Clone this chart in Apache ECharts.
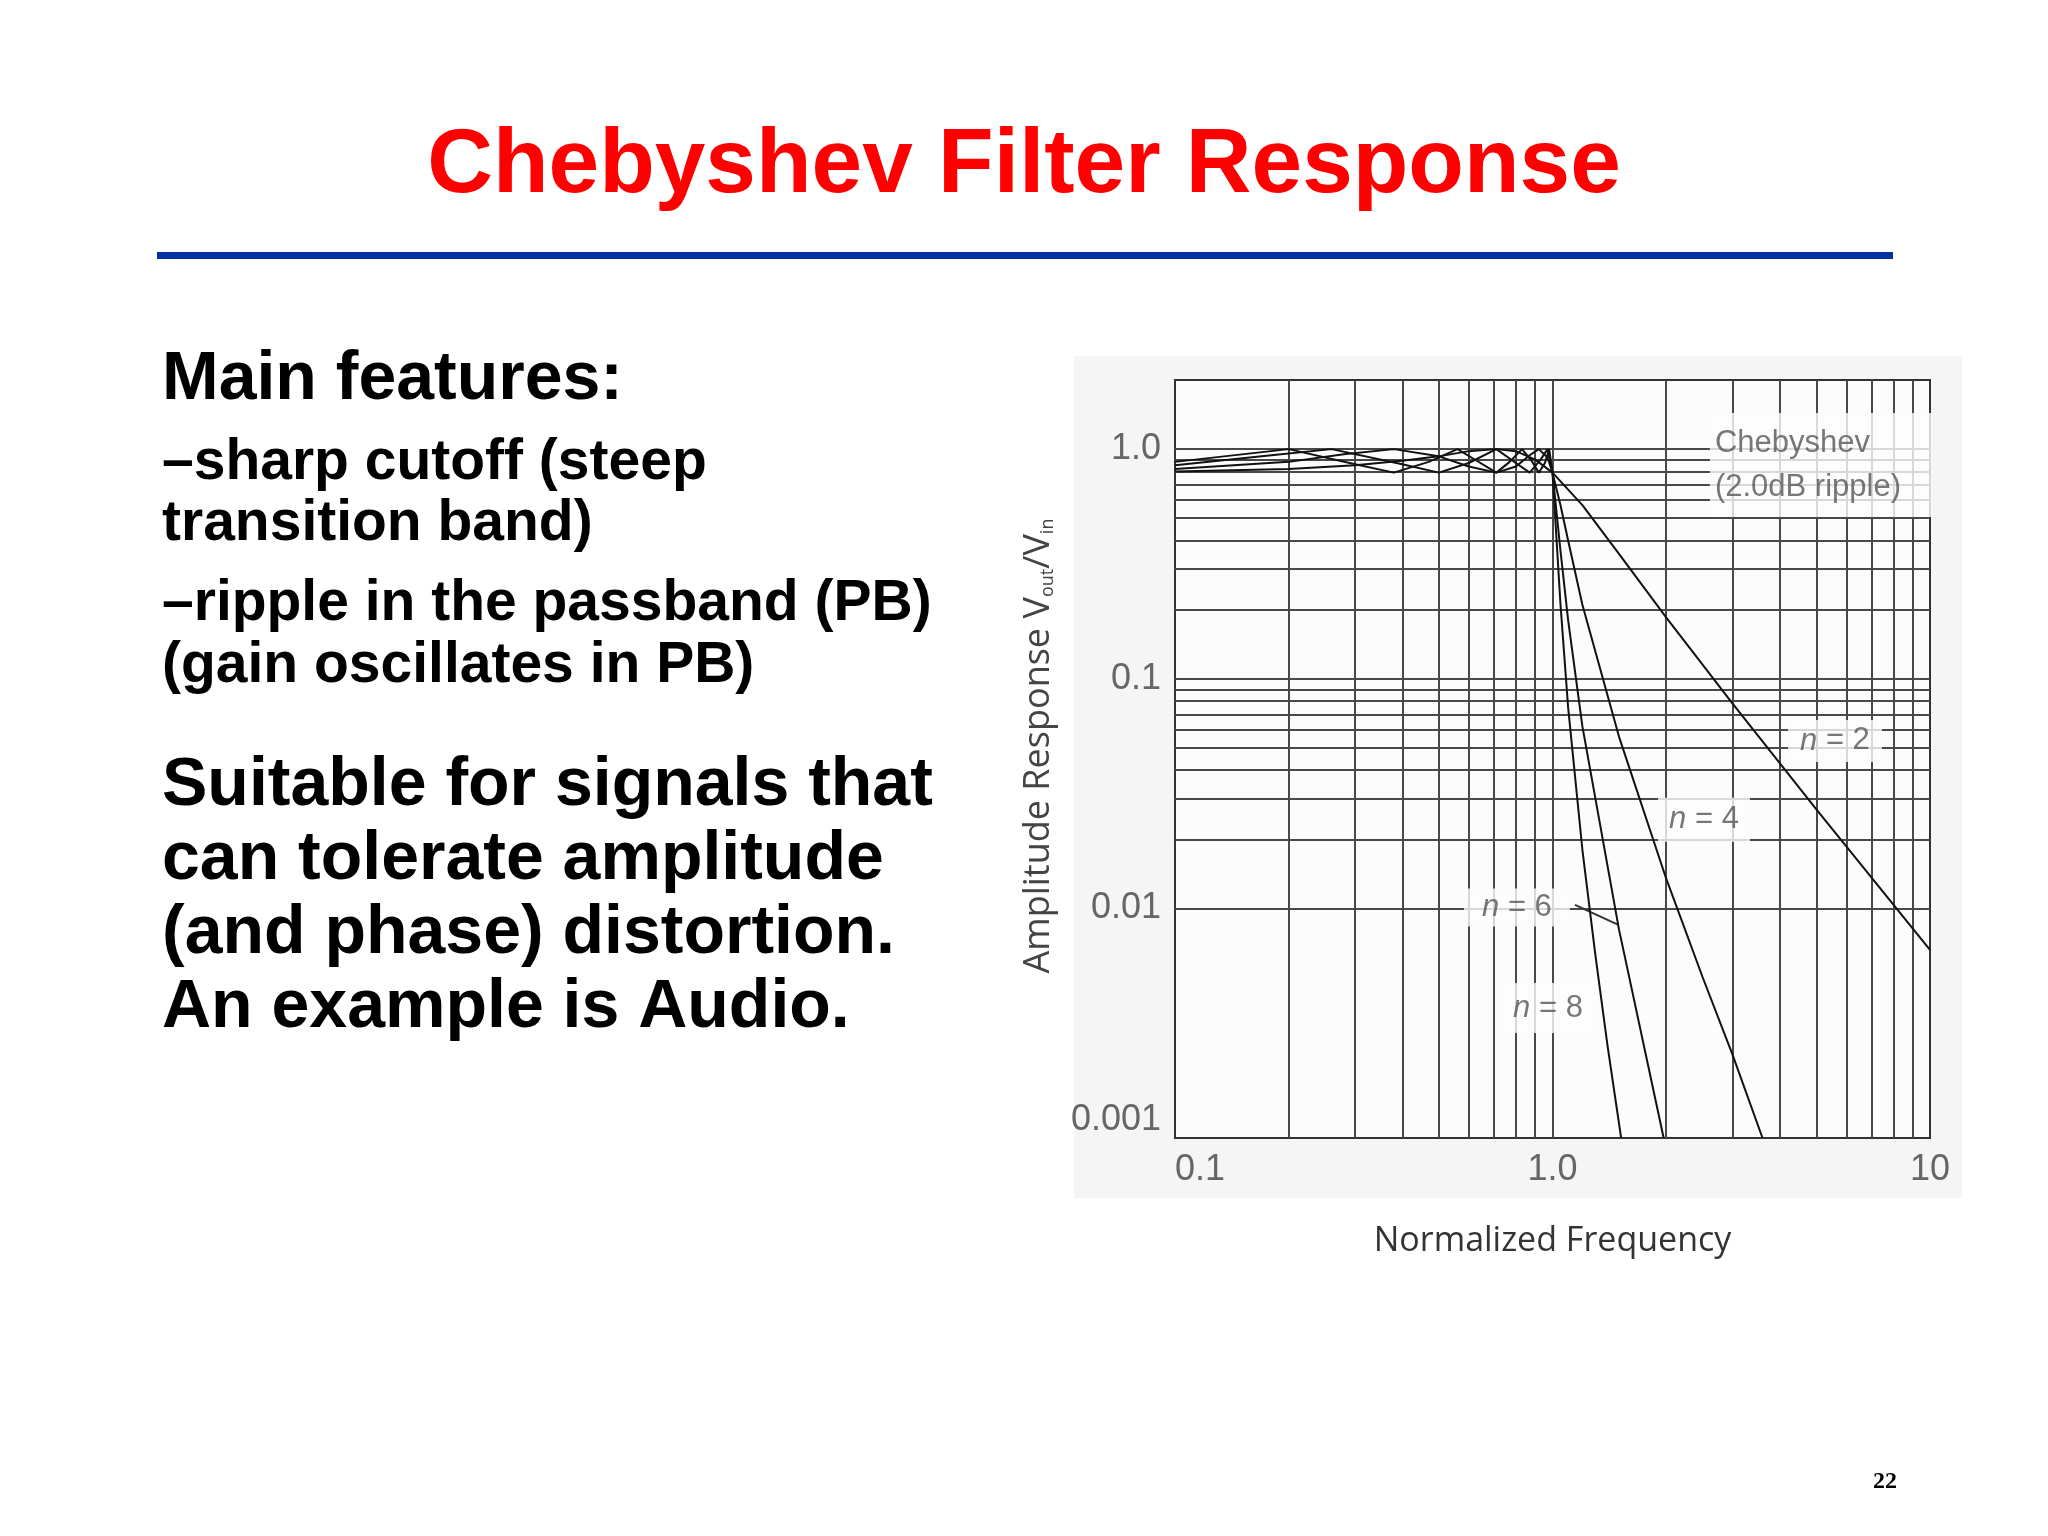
<!DOCTYPE html>
<html>
<head>
<meta charset="utf-8">
<script src="https://cdn.jsdelivr.net/npm/echarts@6/dist/echarts.min.js"></script>
<style>
html,body{margin:0;padding:0;background:#fff;}
#chart{width:2048px;height:1536px;}
</style>
</head>
<body>
<div id="chart"></div>
<script>
// ---- data ----
const freqN2 = [0.1, 0.2, 0.3, 0.4, 0.5, 0.6, 0.71, 0.8, 0.9, 1.0, 1.2, 1.5, 2, 3, 5, 10];
const gainN2 = [0.80, 0.82, 0.85, 0.89, 0.93, 0.98, 1.0, 0.98, 0.90, 0.79, 0.57, 0.35, 0.185, 0.078, 0.027, 0.0066];

const freqN4 = [0.1, 0.2, 0.28, 0.38, 0.5, 0.6, 0.71, 0.8, 0.87, 0.92, 0.97, 1.0, 1.05, 1.1, 1.2, 1.5, 2, 2.5, 3, 3.6];
const gainN4 = [0.82, 0.88, 0.95, 1.0, 0.93, 0.84, 0.79, 0.84, 0.94, 1.0, 0.92, 0.79, 0.57, 0.40, 0.21, 0.056, 0.0135, 0.005, 0.0023, 0.001];

const freqN6 = [0.1, 0.18, 0.26, 0.4, 0.5, 0.6, 0.71, 0.8, 0.87, 0.93, 0.97, 1.0, 1.05, 1.1, 1.2, 1.5, 1.97];
const gainN6 = [0.85, 0.94, 1.0, 0.86, 0.79, 0.87, 1.0, 0.87, 0.79, 0.90, 1.0, 0.79, 0.36, 0.18, 0.062, 0.0081, 0.001];

const freqN8 = [0.1, 0.2, 0.3, 0.38, 0.47, 0.56, 0.63, 0.71, 0.77, 0.83, 0.88, 0.92, 0.955, 0.98, 1.0, 1.05, 1.1, 1.2, 1.3, 1.4, 1.52];
const gainN8 = [0.88, 1.0, 0.86, 0.79, 0.88, 1.0, 0.89, 0.79, 0.88, 1.0, 0.89, 0.79, 0.87, 1.0, 0.79, 0.21, 0.075, 0.018, 0.0062, 0.0025, 0.001];

const xTickLabels = ['0.1', '1.0', '10'];
const yTickLabels = ['0.001', '0.01', '0.1', '1.0'];
const xGridValues = [0.2, 0.3, 0.4, 0.5, 0.6, 0.7, 0.8, 0.9, 1, 2, 3, 4, 5, 6, 7, 8, 9];
const yGridValues = [0.002, 0.003, 0.004, 0.005, 0.006, 0.007, 0.008, 0.009, 0.01,
                     0.02, 0.03, 0.04, 0.05, 0.06, 0.07, 0.08, 0.09, 0.1,
                     0.2, 0.3, 0.4, 0.5, 0.6, 0.7, 0.8, 0.9, 1.0];

const titleText = 'Chebyshev Filter Response';
const bodyLines = [
  {t: 'Main features:', size: 68, y: 380},
  {t: '\u2013sharp cutoff (steep', size: 57, y: 463},
  {t: 'transition band)', size: 57, y: 524},
  {t: '\u2013ripple in the passband (PB)', size: 57, y: 604},
  {t: '(gain oscillates in PB)', size: 57, y: 666},
  {t: 'Suitable for signals that', size: 68, y: 786},
  {t: 'can tolerate amplitude', size: 68, y: 860},
  {t: '(and phase) distortion.', size: 68, y: 934},
  {t: 'An example is Audio.', size: 68, y: 1008}
];
// annotation labels (anchored in data coordinates)
const annotations = [
  {text: '{a|Chebyshev}\n{a|(2.0dB ripple)}', x: 5.14, y: 0.853, w: 222, h: 104},
  {text: '{i|n} = 2', x: 5.6, y: 0.0536, w: 94, h: 42},
  {text: '{i|n} = 4', x: 2.52, y: 0.0243, w: 92, h: 44},
  {text: '{i|n} = 6', x: 0.805, y: 0.0101, w: 106, h: 38},
  {text: '{i|n} = 8', x: 0.973, y: 0.00368, w: 98, h: 50}
];
const leaderN6 = [[1.147, 0.01035], [1.49, 0.0085]];

// ---- chart ----
const chart = echarts.init(document.getElementById('chart'));
const pairs = (f, g) => f.map((v, i) => [v, g[i]]);
const labelFont = "'Liberation Sans Narrow','Liberation Sans',Arial,sans-serif";
const gridColor = '#484848';

const curve = (name, f, g) => ({
  name, type: 'line', data: pairs(f, g), symbol: 'none', z: 6,
  lineStyle: {color: '#111', width: 2}, silent: true, animation: false
});

const graphics = [
  {type: 'rect', z: -100, shape: {x: 1074, y: 356, width: 888, height: 842}, style: {fill: '#f5f5f5'}},
  {type: 'text', style: {text: titleText, x: 1024, y: 167, align: 'center', verticalAlign: 'middle',
     font: "bold 91px 'Liberation Sans', Arial, sans-serif", fill: '#ff0000'}},
  {type: 'rect', shape: {x: 157, y: 252, width: 1736, height: 7}, style: {fill: '#0033a0'}},
  {type: 'text', style: {text: '22', x: 1885, y: 1482, align: 'center', verticalAlign: 'middle',
     font: "bold 24px 'Liberation Serif', 'Times New Roman', serif", fill: '#000'}}
];
bodyLines.forEach(l => graphics.push({
  type: 'text', style: {text: l.t, x: 162, y: l.y, align: 'left', verticalAlign: 'middle',
    font: "bold " + l.size + "px 'Liberation Sans', Arial, sans-serif", fill: '#000'}
}));

const logLabel = (labels, offset) => v => {
  const lg = Math.log10(v);
  const e = Math.round(lg);
  if (Math.abs(lg - e) > 0.01) return '';
  const idx = e - offset;
  return labels[idx] !== undefined ? labels[idx] : '';
};

const nameFont = "'Open Sans','Noto Sans',sans-serif";

chart.setOption({
  animation: false,
  backgroundColor: '#ffffff',
  graphic: graphics,
  grid: {left: 1175, right: 118, top: 380, bottom: 398, show: true,
         backgroundColor: '#fcfcfc', borderColor: '#333', borderWidth: 2},
  xAxis: {
    type: 'log', logBase: 10, min: 0.1, max: 10,
    name: 'Normalized Frequency', nameLocation: 'middle', nameGap: 86,
    nameTextStyle: {fontFamily: nameFont, fontSize: 34, color: '#333'},
    axisLine: {show: true, lineStyle: {color: '#333', width: 2}},
    axisTick: {show: false},
    splitLine: {show: false},
    minorSplitLine: {show: false},
    axisLabel: {formatter: logLabel(xTickLabels, -1), margin: 14, fontFamily: labelFont,
                fontSize: 36, color: '#666', alignMinLabel: 'left', alignMaxLabel: 'center'}
  },
  yAxis: {
    type: 'log', logBase: 10, min: 0.001, max: 2,
    name: '{n|Amplitude Response V}{s|out}{n|/V}{s|in}', nameLocation: 'middle', nameRotate: 90, nameGap: 118,
    nameTextStyle: {
      padding: [0, 0, 0, 26],
      rich: {
        n: {fontFamily: nameFont, fontSize: 36, color: '#444'},
        s: {fontFamily: nameFont, fontSize: 18, color: '#444', verticalAlign: 'bottom', padding: [16, 0, 0, 0]}
      }
    },
    axisLine: {show: true, lineStyle: {color: '#333', width: 2}},
    axisTick: {show: false},
    splitLine: {show: false},
    axisLabel: {formatter: logLabel(yTickLabels, -3), margin: 14, fontFamily: labelFont,
                fontSize: 36, color: '#666', verticalAlignMinLabel: 'bottom'}
  },
  series: [
    {
      name: 'grid', type: 'line', data: [], z: 1, silent: true, animation: false,
      markLine: {
        z: 1, silent: true, symbol: ['none', 'none'], animation: false,
        label: {show: false},
        lineStyle: {type: 'solid', color: gridColor, width: 2},
        data: xGridValues.map(v => ({xAxis: v})).concat(yGridValues.map(v => ({yAxis: v})))
      }
    },
    {
      name: 'annotations', type: 'scatter', z: 3, silent: true, animation: false,
      data: annotations.map(a => ({
        value: [a.x, a.y], symbol: 'rect', symbolSize: [a.w, a.h],
        itemStyle: {color: '#fcfcfc'},
        label: {show: true, position: 'inside', formatter: a.text}
      })),
      label: {
        fontFamily: "'Liberation Sans',Arial,sans-serif", fontSize: 31, color: '#555', lineHeight: 44,
        rich: {
          a: {fontFamily: "'Liberation Sans',Arial,sans-serif", fontSize: 31, color: '#555', width: 212, align: 'left', lineHeight: 44},
          i: {fontFamily: "'Liberation Sans',Arial,sans-serif", fontSize: 31, color: '#555', fontStyle: 'italic'}
        }
      },
      markLine: {
        z: 4, silent: true, symbol: ['none', 'none'], animation: false, label: {show: false},
        lineStyle: {type: 'solid', color: '#333', width: 2},
        data: [[{coord: leaderN6[0]}, {coord: leaderN6[1]}]]
      }
    },
    curve('n = 2', freqN2, gainN2),
    curve('n = 4', freqN4, gainN4),
    curve('n = 6', freqN6, gainN6),
    curve('n = 8', freqN8, gainN8)
  ]
});
</script>
</body>
</html>
